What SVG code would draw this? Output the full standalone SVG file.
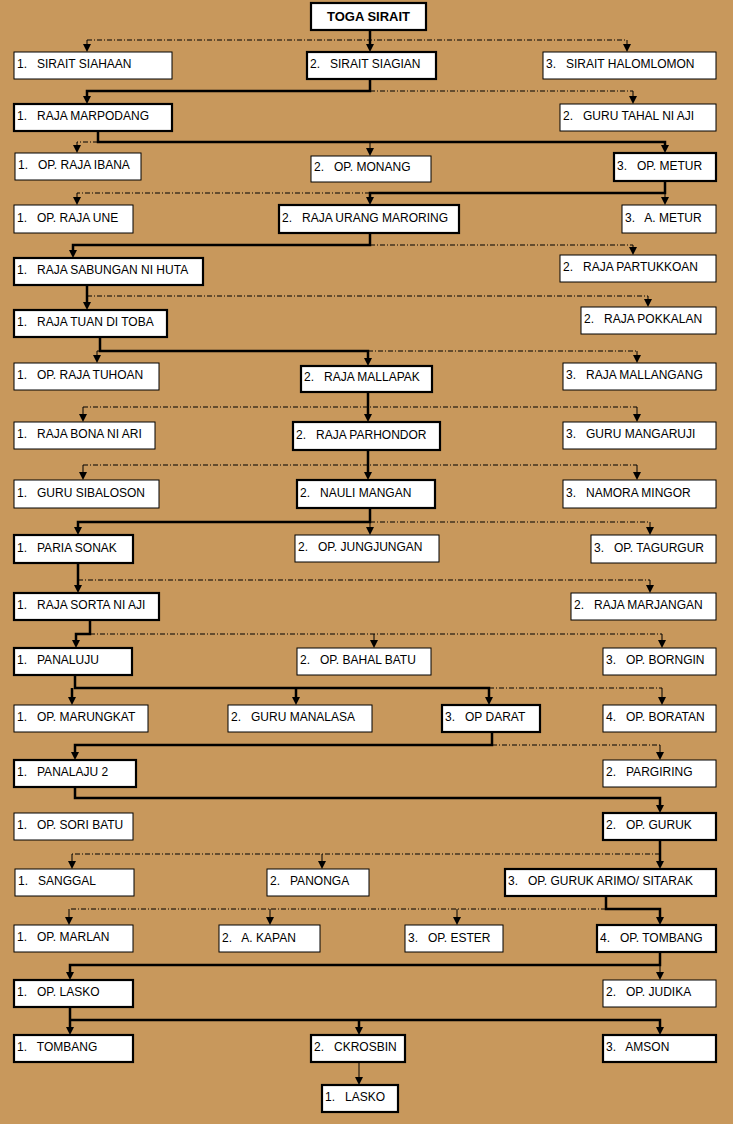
<svg xmlns="http://www.w3.org/2000/svg" xmlns:xlink="http://www.w3.org/1999/xlink" width="733" height="1124" viewBox="0 0 733 1124">
<style>
.bg{fill:#C8985C}
rect.n{fill:#fff;stroke:#000;stroke-width:1}
rect.b{fill:#fff;stroke:#000;stroke-width:2.2}
text{font-family:"Liberation Sans",Arial,sans-serif;font-size:12px;fill:#000;white-space:pre}
.t{font-weight:bold;font-size:13px}
.k{fill:none;stroke:#000;stroke-width:2.5}
.d{fill:none;stroke:#000;stroke-width:1;stroke-dasharray:5,2,1,2}
.s{fill:none;stroke:#000;stroke-width:1}
.ah{fill:#000;stroke:none}
</style>
<defs>
<path id="ah" class="ah" d="M-4,-8 L4,-8 L0,0 Z"/>
</defs>
<rect class="bg" width="733" height="1124"/>
<g id="connectors">
<path class="k" d="M370,30 V46"/>
<path class="d" d="M87,40 H627"/><path class="s" d="M87,40 V46 M627,40 V46"/>
<use xlink:href="#ah" href="#ah" x="87" y="52"/><use xlink:href="#ah" href="#ah" x="370" y="52"/><use xlink:href="#ah" href="#ah" x="627" y="52"/>
<path class="k" d="M370,79 V91 H87 V98"/><use href="#ah" x="87" y="104"/>
<path class="d" d="M370,91 H633"/><path class="s" d="M633,91 V98"/><use href="#ah" x="633" y="104"/>
<path class="k" d="M98,131 V142 H665 V147"/><use href="#ah" x="665" y="153"/>
<path class="d" d="M98,142 H77"/><path class="s" d="M77,142 V147 M370,142 V150"/><use href="#ah" x="77" y="153"/><use href="#ah" x="370" y="156"/>
<path class="k" d="M665,181 V193 H370 V199"/><use href="#ah" x="370" y="205"/>
<path class="d" d="M370,193 H77"/><path class="s" d="M77,193 V199 M665,193 V199"/><use href="#ah" x="77" y="205"/><use href="#ah" x="665" y="205"/>
<path class="k" d="M370,233 V245 H73 V252"/><use href="#ah" x="73" y="258"/>
<path class="d" d="M370,245 H633"/><path class="s" d="M633,245 V249"/><use href="#ah" x="633" y="255"/>
<path class="k" d="M87,285 V304"/><use href="#ah" x="87" y="310"/>
<path class="d" d="M87,296 H648"/><path class="s" d="M648,296 V301"/><use href="#ah" x="648" y="307"/>
<path class="k" d="M100,337 V351 H368 V360"/><use href="#ah" x="368" y="366"/>
<path class="d" d="M100,351 H97 M368,351 H637"/><path class="s" d="M97,351 V357 M637,351 V357"/><use href="#ah" x="97" y="363"/><use href="#ah" x="637" y="363"/>
<path class="k" d="M368,390 V416"/><use href="#ah" x="368" y="422"/>
<path class="d" d="M83,407 H637"/><path class="s" d="M83,407 V416 M637,407 V416"/><use href="#ah" x="83" y="422"/><use href="#ah" x="637" y="422"/>
<path class="k" d="M368,450 V474"/><use href="#ah" x="368" y="480"/>
<path class="d" d="M83,465 H637"/><path class="s" d="M83,465 V474 M637,465 V474"/><use href="#ah" x="83" y="480"/><use href="#ah" x="637" y="480"/>
<path class="k" d="M370,508 V522 H78 V529"/><use href="#ah" x="78" y="535"/>
<path class="d" d="M370,522 H650"/><path class="s" d="M650,522 V529 M370,522 V529"/><use href="#ah" x="650" y="535"/><use href="#ah" x="370" y="535"/>
<path class="k" d="M78,563 V587"/><use href="#ah" x="78" y="593"/>
<path class="d" d="M78,580 H650"/><path class="s" d="M650,580 V587"/><use href="#ah" x="650" y="593"/>
<path class="k" d="M90,620 V634 H76 V642"/><use href="#ah" x="76" y="648"/>
<path class="d" d="M90,634 H662"/><path class="s" d="M374,634 V642 M662,634 V642"/><use href="#ah" x="374" y="648"/><use href="#ah" x="662" y="648"/>
<path class="k" d="M75,675 V688 H489 V699 M72,688 V699 M296,688 V699"/>
<use href="#ah" x="489" y="705"/><use href="#ah" x="72" y="705"/><use href="#ah" x="296" y="705"/>
<path class="d" d="M489,688 H662"/><path class="s" d="M662,688 V699"/><use href="#ah" x="662" y="705"/>
<path class="k" d="M492,732 V745 H75 V754"/><use href="#ah" x="75" y="760"/>
<path class="d" d="M492,745 H660"/><path class="s" d="M660,745 V754"/><use href="#ah" x="660" y="760"/>
<path class="k" d="M75,787 V798 H660 V807"/><use href="#ah" x="660" y="813"/>
<path class="k" d="M660,840 V863"/><use href="#ah" x="660" y="869"/>
<path class="d" d="M660,854 H72"/><path class="s" d="M72,854 V863 M322,854 V863"/><use href="#ah" x="72" y="869"/><use href="#ah" x="322" y="869"/>
<path class="k" d="M606,896 V909 H660 V919"/><use href="#ah" x="660" y="925"/>
<path class="d" d="M606,909 H69"/><path class="s" d="M69,909 V919 M270,909 V919 M457,909 V919"/><use href="#ah" x="69" y="925"/><use href="#ah" x="270" y="925"/><use href="#ah" x="457" y="925"/>
<path class="k" d="M660,952 V965 H70 V974"/><use href="#ah" x="70" y="980"/><path class="s" d="M660,965 V974"/><use href="#ah" x="660" y="980"/>
<path class="k" d="M70,1007 V1020 H660 V1029 M359,1020 V1029 M70,1020 V1029"/><use href="#ah" x="70" y="1035"/><use href="#ah" x="359" y="1035"/><use href="#ah" x="660" y="1035"/>
<path class="s" d="M359,1062 V1079"/><use href="#ah" x="359" y="1085"/>
</g>
<g id="n0"><rect class="b" x="311" y="3" width="115" height="27"/><text class="t" x="368.5" y="21" text-anchor="middle">TOGA SIRAIT</text></g>
<g id="n1"><rect class="n" x="14" y="52" width="158" height="27"/><text x="17" y="68">1.   SIRAIT SIAHAAN</text></g>
<g id="n2"><rect class="b" x="307" y="52" width="129" height="27"/><text x="310" y="68">2.   SIRAIT SIAGIAN</text></g>
<g id="n3"><rect class="n" x="543" y="52" width="173" height="27"/><text x="546" y="68">3.   SIRAIT HALOMLOMON</text></g>
<g id="n4"><rect class="b" x="14" y="104" width="158" height="27"/><text x="17" y="120">1.   RAJA MARPODANG</text></g>
<g id="n5"><rect class="n" x="560" y="104" width="156" height="27"/><text x="563" y="120">2.   GURU TAHAL NI AJI</text></g>
<g id="n6"><rect class="n" x="15" y="153" width="126" height="27"/><text x="18" y="169">1.   OP. RAJA IBANA</text></g>
<g id="n7"><rect class="n" x="311" y="156" width="120" height="26"/><text x="314" y="171">2.   OP. MONANG</text></g>
<g id="n8"><rect class="b" x="614" y="153" width="102" height="28"/><text x="617" y="170">3.   OP. METUR</text></g>
<g id="n9"><rect class="n" x="14" y="205" width="119" height="28"/><text x="17" y="222">1.   OP. RAJA UNE</text></g>
<g id="n10"><rect class="b" x="279" y="205" width="180" height="28"/><text x="282" y="222">2.   RAJA URANG MARORING</text></g>
<g id="n11"><rect class="n" x="622" y="205" width="94" height="28"/><text x="625" y="222">3.   A. METUR</text></g>
<g id="n12"><rect class="b" x="14" y="258" width="189" height="27"/><text x="17" y="274">1.   RAJA SABUNGAN NI HUTA</text></g>
<g id="n13"><rect class="n" x="560" y="255" width="156" height="27"/><text x="563" y="271">2.   RAJA PARTUKKOAN</text></g>
<g id="n14"><rect class="b" x="14" y="310" width="153" height="27"/><text x="17" y="326">1.   RAJA TUAN DI TOBA</text></g>
<g id="n15"><rect class="n" x="581" y="307" width="135" height="27"/><text x="584" y="323">2.   RAJA POKKALAN</text></g>
<g id="n16"><rect class="n" x="14" y="363" width="145" height="27"/><text x="17" y="379">1.   OP. RAJA TUHOAN</text></g>
<g id="n17"><rect class="b" x="301" y="366" width="131" height="26"/><text x="304" y="381">2.   RAJA MALLAPAK</text></g>
<g id="n18"><rect class="n" x="563" y="363" width="153" height="27"/><text x="566" y="379">3.   RAJA MALLANGANG</text></g>
<g id="n19"><rect class="n" x="14" y="422" width="141" height="27"/><text x="17" y="438">1.   RAJA BONA NI ARI</text></g>
<g id="n20"><rect class="b" x="293" y="422" width="147" height="28"/><text x="296" y="439">2.   RAJA PARHONDOR</text></g>
<g id="n21"><rect class="n" x="563" y="422" width="153" height="27"/><text x="566" y="438">3.   GURU MANGARUJI</text></g>
<g id="n22"><rect class="n" x="14" y="480" width="145" height="28"/><text x="17" y="497">1.   GURU SIBALOSON</text></g>
<g id="n23"><rect class="b" x="297" y="480" width="138" height="28"/><text x="300" y="497">2.   NAULI MANGAN</text></g>
<g id="n24"><rect class="n" x="563" y="480" width="153" height="28"/><text x="566" y="497">3.   NAMORA MINGOR</text></g>
<g id="n25"><rect class="b" x="14" y="535" width="119" height="28"/><text x="17" y="552">1.   PARIA SONAK</text></g>
<g id="n26"><rect class="n" x="295" y="535" width="144" height="27"/><text x="298" y="551">2.   OP. JUNGJUNGAN</text></g>
<g id="n27"><rect class="n" x="591" y="535" width="125" height="28"/><text x="594" y="552">3.   OP. TAGURGUR</text></g>
<g id="n28"><rect class="b" x="14" y="593" width="145" height="27"/><text x="17" y="609">1.   RAJA SORTA NI AJI</text></g>
<g id="n29"><rect class="n" x="571" y="593" width="145" height="27"/><text x="574" y="609">2.   RAJA MARJANGAN</text></g>
<g id="n30"><rect class="b" x="14" y="648" width="118" height="27"/><text x="17" y="664">1.   PANALUJU</text></g>
<g id="n31"><rect class="n" x="297" y="648" width="134" height="27"/><text x="300" y="664">2.   OP. BAHAL BATU</text></g>
<g id="n32"><rect class="n" x="603" y="648" width="113" height="27"/><text x="606" y="664">3.   OP. BORNGIN</text></g>
<g id="n33"><rect class="n" x="14" y="705" width="134" height="27"/><text x="17" y="721">1.   OP. MARUNGKAT</text></g>
<g id="n34"><rect class="n" x="228" y="705" width="144" height="27"/><text x="231" y="721">2.   GURU MANALASA</text></g>
<g id="n35"><rect class="b" x="442" y="705" width="98" height="27"/><text x="445" y="721">3.   OP DARAT</text></g>
<g id="n36"><rect class="n" x="603" y="705" width="113" height="27"/><text x="606" y="721">4.   OP. BORATAN</text></g>
<g id="n37"><rect class="b" x="14" y="760" width="122" height="27"/><text x="17" y="776">1.   PANALAJU 2</text></g>
<g id="n38"><rect class="n" x="603" y="760" width="113" height="27"/><text x="606" y="776">2.   PARGIRING</text></g>
<g id="n39"><rect class="n" x="14" y="813" width="119" height="27"/><text x="17" y="829">1.   OP. SORI BATU</text></g>
<g id="n40"><rect class="b" x="603" y="813" width="113" height="27"/><text x="606" y="829">2.   OP. GURUK</text></g>
<g id="n41"><rect class="n" x="15" y="869" width="119" height="27"/><text x="18" y="885">1.   SANGGAL</text></g>
<g id="n42"><rect class="n" x="267" y="869" width="102" height="27"/><text x="270" y="885">2.   PANONGA</text></g>
<g id="n43"><rect class="b" x="505" y="869" width="211" height="27"/><text x="508" y="885">3.   OP. GURUK ARIMO/ SITARAK</text></g>
<g id="n44"><rect class="n" x="14" y="925" width="119" height="27"/><text x="17" y="941">1.   OP. MARLAN</text></g>
<g id="n45"><rect class="n" x="219" y="925" width="101" height="27"/><text x="222" y="942">2.   A. KAPAN</text></g>
<g id="n46"><rect class="n" x="405" y="925" width="98" height="27"/><text x="408" y="942">3.   OP. ESTER</text></g>
<g id="n47"><rect class="b" x="597" y="925" width="119" height="27"/><text x="600" y="942">4.   OP. TOMBANG</text></g>
<g id="n48"><rect class="b" x="14" y="980" width="119" height="27"/><text x="17" y="996">1.   OP. LASKO</text></g>
<g id="n49"><rect class="n" x="603" y="980" width="113" height="27"/><text x="606" y="996">2.   OP. JUDIKA</text></g>
<g id="n50"><rect class="b" x="14" y="1035" width="119" height="27"/><text x="17" y="1051">1.   TOMBANG</text></g>
<g id="n51"><rect class="b" x="311" y="1035" width="94" height="27"/><text x="314" y="1051">2.   CKROSBIN</text></g>
<g id="n52"><rect class="b" x="603" y="1035" width="113" height="27"/><text x="606" y="1051">3.   AMSON</text></g>
<g id="n53"><rect class="b" x="322" y="1085" width="76" height="27"/><text x="325" y="1101">1.   LASKO</text></g>
</svg>
